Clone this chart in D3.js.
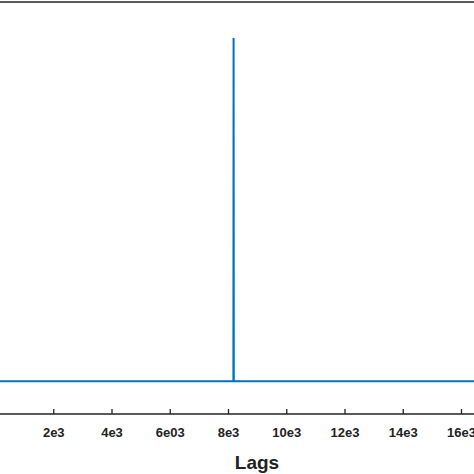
<!DOCTYPE html><html><head><script src="https://cdn.jsdelivr.net/npm/d3@7"></script>
<style>body{margin:0;background:#fff}</style></head><body><svg id="c" width="474" height="474"></svg>
<script>
const lags=[0,8185,8192,8199,16500];
const values=[0.005,0.005,1,0.005,0.005];
const xTicks=[2000,4000,6000,8000,10000,12000,14000,16000];
const xTickLabels=["2e3","4e3","6e03","8e3","10e3","12e3","14e3","16e3"];
const yTicks=[0,0.2,0.4,0.6,0.8,1];
(function(){
const svg=d3.select("#c");
const x=d3.scaleLinear().domain([0,16000]).range([-5,461]);
const y=d3.scaleLinear().domain([0,1]).range([383,38]);
const pTop=2,pBottom=414,pLeft=-5,pRight=490;
svg.append("line").attr("x1",pLeft).attr("x2",pRight).attr("y1",pTop).attr("y2",pTop).attr("stroke","#222").attr("stroke-width",1.5);
svg.append("line").attr("x1",pLeft).attr("x2",pRight).attr("y1",pBottom).attr("y2",pBottom).attr("stroke","#222").attr("stroke-width",1.5);
const xa=svg.append("g").attr("transform",`translate(0,${pBottom})`)
 .call(d3.axisBottom(x).tickValues(xTicks).tickFormat((d,i)=>xTickLabels[i]).tickSizeInner(-5).tickSizeOuter(0).tickPadding(14));
xa.select(".domain").remove();
xa.selectAll("line").attr("stroke","#222").attr("stroke-width",1.3);
xa.selectAll("text").attr("font-family","Liberation Sans, Arial").attr("font-weight","bold").attr("font-size",13).attr("fill","#222");
const ya=svg.append("g").attr("transform","translate(-5,0)")
 .call(d3.axisLeft(y).tickValues(yTicks).tickSizeInner(-5).tickSizeOuter(0));
ya.select(".domain").remove();
ya.selectAll("line").attr("stroke","#222").attr("stroke-width",1.3);
svg.append("path").datum(lags.map((l,i)=>[l,values[i]]))
 .attr("d",d3.line().x(d=>x(d[0])).y(d=>y(d[1])))
 .attr("fill","none").attr("stroke","#0072BD").attr("stroke-width",2);
svg.append("text").attr("x",257).attr("y",469).attr("text-anchor","middle")
 .attr("font-family","Liberation Sans, Arial").attr("font-weight","bold").attr("font-size",19).attr("fill","#222").text("Lags");
})();
</script></body></html>
